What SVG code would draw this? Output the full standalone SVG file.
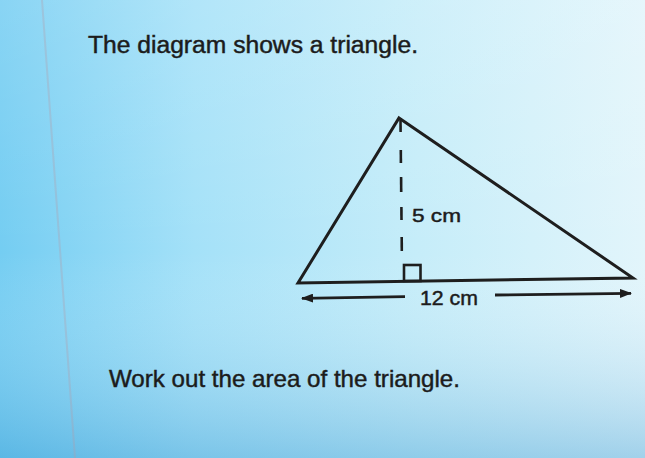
<svg xmlns="http://www.w3.org/2000/svg" width="645" height="458" viewBox="0 0 645 458">
  <defs>
    <linearGradient id="bgH" x1="0" y1="0" x2="1" y2="0">
      <stop offset="0" stop-color="#74cdf2"/>
      <stop offset="0.3" stop-color="#a4e1f8"/>
      <stop offset="0.65" stop-color="#c6edf9"/>
      <stop offset="1" stop-color="#e2f5fb"/>
    </linearGradient>
    <linearGradient id="bgV" x1="0" y1="0" x2="0" y2="1">
      <stop offset="0" stop-color="#ffffff" stop-opacity="0.15"/>
      <stop offset="0.55" stop-color="#ffffff" stop-opacity="0"/>
      <stop offset="1" stop-color="#2a8fcc" stop-opacity="0.35"/>
    </linearGradient>
    <marker id="arrow" viewBox="0 0 12 9" refX="11" refY="4.5" markerWidth="12" markerHeight="9" markerUnits="userSpaceOnUse" orient="auto-start-reverse">
      <path d="M0,0 L12,4.5 L0,9 z" fill="#1e1e1e"/>
    </marker>
    <style>
      .ln { stroke: #1e1e1e; stroke-width: 3; fill: none; stroke-linejoin: miter; }
      .dash { stroke: #1e1e1e; stroke-width: 2.6; }
      .dim { stroke: #1e1e1e; stroke-width: 2.8; fill: none; }
      .txt { font-family: "Liberation Sans", Arial, sans-serif; fill: #1c1c1c; stroke: #1c1c1c; stroke-width: 0.45; }
    </style>
  </defs>

  <g id="background">
    <rect x="0" y="0" width="645" height="458" fill="url(#bgH)"/>
    <rect x="0" y="0" width="645" height="458" fill="url(#bgV)"/>
    <line x1="42" y1="0" x2="75" y2="458" stroke="#b79aa6" stroke-width="2" opacity="0.3"/>
  </g>

  <g id="title">
    <text class="txt" x="88" y="53" font-size="23" textLength="330" lengthAdjust="spacingAndGlyphs">The diagram shows a triangle.</text>
  </g>

  <g id="triangle">
    <polygon class="ln" points="399,118 633,278 298,283"/>
  </g>

  <g id="altitude">
    <line class="dash" x1="400.5" y1="119" x2="400.6" y2="132"/>
    <line class="dash" x1="400.8" y1="150" x2="400.9" y2="163"/>
    <line class="dash" x1="401.1" y1="177" x2="401.2" y2="192"/>
    <line class="dash" x1="401.4" y1="207" x2="401.5" y2="220"/>
    <line class="dash" x1="401.7" y1="237" x2="401.8" y2="251"/>
  </g>

  <g id="right-angle">
    <rect x="404" y="265" width="16.5" height="16" fill="none" stroke="#1e1e1e" stroke-width="2.6"/>
  </g>

  <g id="height-label">
    <text class="txt" x="412" y="222" font-size="19" textLength="49" lengthAdjust="spacingAndGlyphs">5 cm</text>
  </g>

  <g id="connectors">
    <line class="dim" x1="405" y1="296.7" x2="302" y2="298.3" marker-end="url(#arrow)"/>
    <line class="dim" x1="495" y1="295" x2="631" y2="293.3" marker-end="url(#arrow)"/>
  </g>

  <g id="base-label">
    <text class="txt" x="420" y="305" font-size="20" textLength="58" lengthAdjust="spacingAndGlyphs">12 cm</text>
  </g>

  <g id="question">
    <text class="txt" x="109" y="387" font-size="24" textLength="351" lengthAdjust="spacingAndGlyphs">Work out the area of the triangle.</text>
  </g>
</svg>
